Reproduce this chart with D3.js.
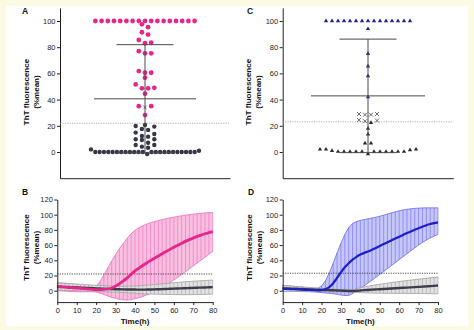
<!DOCTYPE html>
<html>
<head>
<meta charset="utf-8">
<script src="https://cdn.jsdelivr.net/npm/d3@7"></script>
<style>
  body { margin: 0; background: #fbfae2; }
  svg { display: block; font-family: "Liberation Sans", Arial, sans-serif; }
</style>
</head>
<body>
<svg id="chart" width="474" height="330"></svg>
<script>
// panel A - end point ThT values, split by call
var aPositive = [100,100,100,100,100,100,100,100,100,100,100,100,100,100,100,100,100,
  97.5,95.3,91.4,89.6,85.5,83.4,83,77,75.3,75.3,61.8,60.5,60.5,56.7,51.6,49,48.6,48.6,44.5,35,35,28.2];
var aNegative = [20.6,19.8,19.4,17.6,16.8,14.8,13.7,12.2,11.7,9.7,9.7,9.2,7.1,5.3,5.3,4.1,3.3,2,1,
  0,0,0,0,0,0,0,0,0,0,0,0,0,0,0,0,0,0,0,0,0,0,0,-1.5];
var aUnclear = [34];

// panel C
var cPositive = [100,100,100,100,100,100,100,100,100,100,100,100,100,100,100,94,75,65.5,58,42];
var cNegative = [22.4,18,13.5,6.6,6.6,2,2,0.3,0.3,0.3,0.3,0.3,0.3,-1.5,0.3,0.3,0.3,0.3,0.3,1,1.5,2];
var cUnclear = [29,28.5,28.5,29,24.5,23.5,24];

var scatterTicks = [0, 20, 40, 60, 80, 100];
var kineticTicks = [0, 20, 40, 60, 80, 100, 120];
var hourTicks = [0, 10, 20, 30, 40, 50, 60, 70, 80];
var thresholds = { A: 22, B: 22, C: 23, D: 23 };

// kinetic curves, read every 2 h
var hours = [0,2,4,6,8,10,12,14,16,18,20,22,24,26,28,30,32,34,36,38,40,
  42,44,46,48,50,52,54,56,58,60,62,64,66,68,70,72,74,76,78,80];

var bPosMean = [5.2,5.0,4.6,4.2,3.9,3.5,3.0,2.6,2.2,1.8,1.5,1.4,1.7,2.4,3.6,6.0,9.2,12.8,16.8,21.5,26.0,
  29.8,33.2,36.5,39.6,42.6,45.6,48.6,51.5,54.4,57.2,59.9,62.4,64.9,67.2,69.4,71.4,73.2,74.9,76.4,77.8];
var bPosUpper = [10.5,10.2,9.8,9.3,8.8,8.2,7.5,6.8,6.0,5.2,5.5,12,21,30,39,47.5,55.5,62.5,69,75,79.5,
  82.8,85.4,87.6,89.4,91,92.4,93.6,94.8,95.8,96.8,97.7,98.6,99.4,100.1,100.7,101.3,101.8,102.3,102.7,103];
var bPosLower = [0,-0.3,-0.6,-0.9,-1.2,-1.4,-1.5,-1.4,-1.3,-1.3,-1.8,-3.2,-5,-7,-8.8,-10.3,-11.4,-12,-12.2,-11.7,-10.6,
  -9.2,-7.5,-5.6,-3.6,-1.4,1.2,4.1,7.3,10.6,14,17.6,21.3,25,28.8,32.6,36.4,40.2,44,47.8,51.6];

var bNegMean = [5.4,5.2,5.0,4.8,4.6,4.4,4.1,3.9,3.6,3.4,3.1,2.9,2.6,2.4,2.2,2.0,1.9,1.7,1.6,1.5,1.5,
  1.4,1.4,1.5,1.6,1.7,1.9,2.1,2.3,2.5,2.7,2.9,3.1,3.3,3.5,3.7,3.9,4.1,4.3,4.5,4.7];
var bNegUpper = [10.2,9.9,9.6,9.3,9.0,8.7,8.4,8.1,7.8,7.5,7.1,6.8,6.5,6.3,6.1,5.9,5.8,5.8,5.9,6.0,6.2,
  6.5,6.8,7.2,7.6,8.0,8.5,9.0,9.5,10.0,10.5,11.0,11.4,11.8,12.2,12.5,12.8,13.1,13.4,13.7,14.0];
var bNegLower = [0.6,0.5,0.4,0.3,0.2,0.1,-0.2,-0.3,-0.6,-0.7,-0.9,-1.0,-1.3,-1.5,-1.7,-1.9,-2.0,-2.4,-2.7,-3.0,-3.2,
  -3.7,-4.0,-4.2,-4.4,-4.6,-4.7,-4.8,-4.9,-5.0,-5.1,-5.2,-5.2,-5.2,-5.2,-5.1,-5.0,-4.9,-4.8,-4.7,-4.6];

var dPosMean = [2.6,2.3,2.1,1.9,1.6,1.4,1.2,1.0,0.7,0.5,0.8,2.0,4.6,9.8,16.8,24.2,30.8,36.2,40.8,44.6,47.6,
  49.8,51.6,53.8,56.3,58.8,61.3,63.8,66.2,68.6,71.0,73.4,75.8,78.0,80.1,82.1,84.2,86.2,87.8,89.0,90.0];
var dPosUpper = [7.0,6.6,6.1,5.6,5.1,4.6,4.1,3.6,3.2,3.2,6.2,13,23.5,36,49.5,62.5,74,83,88.5,91,92.5,
  93.6,94.6,95.6,96.7,98,99.4,100.9,102.4,103.8,105.1,106.2,107.1,107.8,108.3,108.7,108.9,109,109,109,109];
var dPosLower = [-0.4,-0.5,-0.6,-0.8,-1,-1.1,-1.2,-1.4,-1.6,-2.0,-2.5,-3.0,-3.5,-4.1,-4.8,-5.7,-6.4,-6.2,-3.8,-0.4,3.0,
  6.5,10.1,13.8,17.6,21.4,25.2,29.1,33.0,36.9,40.8,44.7,48.6,52.5,56.3,60.0,63.5,66.6,69.3,71.8,74.0];

var dNegMean = [3.0,2.9,2.7,2.6,2.4,2.2,2.0,1.8,1.6,1.3,1.1,0.9,0.7,0.5,0.3,0.1,-0.1,-0.3,-0.4,-0.1,0.3,
  0.7,1.0,1.4,1.7,2.0,2.3,2.6,2.9,3.2,3.5,3.8,4.1,4.4,4.7,5.0,5.3,5.7,6.0,6.4,6.8];
var dNegUpper = [7.0,6.6,6.2,5.8,5.4,5.0,4.6,4.2,3.8,3.4,3.0,2.7,2.4,2.1,1.8,1.6,1.3,1.1,1.2,2.4,4.0,
  5.0,5.9,6.8,7.7,8.5,9.3,10.0,10.7,11.4,12.1,12.8,13.4,14.0,14.6,15.2,15.8,16.4,17.0,17.5,18.0];
var dNegLower = [-1.0,-1.0,-0.9,-0.9,-0.9,-0.8,-0.8,-0.9,-0.9,-1.0,-1.1,-1.2,-1.3,-1.4,-1.5,-1.6,-1.7,-1.8,-2.0,-2.3,-2.6,
  -2.8,-3.0,-3.1,-3.2,-3.3,-3.4,-3.4,-3.5,-3.5,-3.5,-3.5,-3.6,-3.6,-3.6,-3.7,-3.7,-3.8,-3.9,-4.0,-4.1];

var pink = "#e6268b", pinkBar = "#ee6fbb", pinkFill = "#f8bfe0";
var blue = "#1a1fc8", blueMark = "#1c1f9c", blueBar = "#6a6aec", blueFill = "#c6c7f8";
var dark = "#36364a", greyBar = "#a0a0a0", greyFill = "#e2e2e2";

var svg = d3.select("#chart");

svg.append("rect")
    .attr("x", 6).attr("y", 6)
    .attr("width", 462).attr("height", 320)
    .attr("fill", "#fff");

function styleAxis(g) {
  g.selectAll("path, line").attr("stroke", "#222").attr("stroke-width", 1);
  g.selectAll("text").attr("font-size", 7.5).attr("fill", "#222");
}

function yTitle(x, cy) {
  var t = svg.append("g")
      .attr("transform", "translate(" + x + "," + cy + ") rotate(-90)")
      .attr("font-weight", "bold").attr("font-size", 8).attr("fill", "#111")
      .attr("text-anchor", "middle");
  t.append("text").attr("y", 0).text("ThT fluorescence");
  t.append("text").attr("y", 10).text("(%mean)");
}

function panelLetter(x, y, s) {
  svg.append("text").attr("x", x).attr("y", y)
      .attr("font-weight", "bold").attr("font-size", 8.5).attr("fill", "#111")
      .text(s);
}

// simple GraphPad-like column scatter: rows of close values, centred on the column
function swarm(points, y, cx, step, maxW) {
  var sorted = points.slice().sort(function(a, b) { return a.v - b.v; });
  var rows = [], row = null;
  sorted.forEach(function(p) {
    if (row && y(row[0].v) - y(p.v) < 4.7) row.push(p);
    else { row = [p]; rows.push(row); }
  });
  rows.forEach(function(r) {
    var n = r.length,
        s = n > 1 ? Math.min(step, maxW / (n - 1)) : 0;
    var slots = d3.range(n).map(function(i) { return i - (n - 1) / 2; })
        .sort(function(a, b) { return Math.abs(a) - Math.abs(b) || b - a; });
    r.forEach(function(p, i) { p.x = cx + slots[i] * s; p.y = y(p.v); });
  });
  return sorted;
}

function scatterPanel(opt) {
  var x = d3.scaleBand().domain(["all"]).range(opt.xRange),
      y = d3.scaleLinear().domain([-20, 110]).range([178.2, 7.9]);
  var cx = x("all") + x.bandwidth() / 2;

  svg.append("g")
      .attr("transform", "translate(" + opt.xRange[0] + ",0)")
      .call(d3.axisLeft(y).tickValues(scatterTicks).tickSize(3).tickSizeOuter(0).tickPadding(1.5))
      .call(styleAxis);
  svg.append("g")
      .attr("transform", "translate(0," + y(-20) + ")")
      .call(d3.axisBottom(x).tickValues([]).tickSizeOuter(0))
      .call(styleAxis);

  svg.append("line")
      .attr("x1", opt.xRange[0]).attr("x2", opt.xRange[1])
      .attr("y1", y(opt.threshold)).attr("y2", y(opt.threshold))
      .attr("stroke", "#9a9a9a").attr("stroke-width", 0.8)
      .attr("stroke-dasharray", "1.2,1.2");

  var pts = [];
  opt.pos.forEach(function(v) { pts.push({ v: v, kind: "pos" }); });
  opt.neg.forEach(function(v) { pts.push({ v: v, kind: "neg" }); });
  opt.unclear.forEach(function(v) { pts.push({ v: v, kind: "unclear" }); });
  swarm(pts, y, cx, opt.step, opt.maxW);

  var g = svg.append("g");
  if (opt.shape === "circle") {
    g.selectAll("circle")
      .data(pts.filter(function(d) { return d.kind !== "unclear"; }))
      .enter().append("circle")
        .attr("cx", function(d) { return d.x; })
        .attr("cy", function(d) { return d.y; })
        .attr("r", function(d) { return d.kind === "pos" ? 2.4 : 2.2; })
        .attr("fill", function(d) { return d.kind === "pos" ? pink : dark; });
  } else {
    g.selectAll("path")
      .data(pts.filter(function(d) { return d.kind !== "unclear"; }))
      .enter().append("path")
        .attr("transform", function(d) { return "translate(" + d.x + "," + d.y + ")"; })
        .attr("d", d3.symbol(d3.symbolTriangle).size(8))
        .attr("fill", function(d) { return d.kind === "pos" ? blueMark : "#2a2a2a"; });
  }
  var xs = opt.crossSize;
  g.selectAll("g.cross")
    .data(pts.filter(function(d) { return d.kind === "unclear"; }))
    .enter().append("path")
      .attr("class", "cross")
      .attr("d", function(d) {
        return "M" + (d.x - xs) + "," + (d.y - xs) + "L" + (d.x + xs) + "," + (d.y + xs) +
               "M" + (d.x - xs) + "," + (d.y + xs) + "L" + (d.x + xs) + "," + (d.y - xs);
      })
      .attr("stroke", "#444").attr("stroke-width", 0.8).attr("fill", "none");

  // mean and SD of the whole column
  var all = pts.map(function(d) { return d.v; });
  var m = d3.mean(all), sd = d3.deviation(all);
  var lines = svg.append("g").attr("stroke", "#4a4a4a").attr("stroke-width", 1);
  lines.append("line")
      .attr("x1", cx - opt.meanW / 2).attr("x2", cx + opt.meanW / 2)
      .attr("y1", y(m)).attr("y2", y(m));
  lines.append("line")
      .attr("x1", cx).attr("x2", cx)
      .attr("y1", y(m - sd)).attr("y2", y(m + sd));
  [m - sd, m + sd].forEach(function(v) {
    lines.append("line")
        .attr("x1", cx - 28.5).attr("x2", cx + 28.5)
        .attr("y1", y(v)).attr("y2", y(v));
  });
}

function kineticPanel(opt) {
  var x = d3.scaleLinear().domain([0, 80]).range(opt.xRange),
      y = d3.scaleLinear().domain([-15, 120]).range([302.1, 199.5]);

  function band(upper, lower, fill, bar) {
    var g = svg.append("g");
    g.append("path")
        .datum(hours)
        .attr("d", d3.area()
          .x(function(d) { return x(d); })
          .y0(function(d, i) { return y(lower[i]); })
          .y1(function(d, i) { return y(upper[i]); }))
        .attr("fill", fill);
    g.selectAll("line")
      .data(hours)
      .enter().append("line")
        .attr("x1", function(d) { return x(d); })
        .attr("x2", function(d) { return x(d); })
        .attr("y1", function(d, i) { return y(lower[i]); })
        .attr("y2", function(d, i) { return y(upper[i]); })
        .attr("stroke", bar).attr("stroke-width", 0.6);
    [upper, lower].forEach(function(arr) {
      g.append("path")
          .datum(hours)
          .attr("d", d3.line()
            .x(function(d) { return x(d); })
            .y(function(d, i) { return y(arr[i]); }))
          .attr("fill", "none").attr("stroke", bar).attr("stroke-width", 0.8);
    });
  }
  function meanLine(mean, color, w) {
    svg.append("path")
        .datum(hours)
        .attr("d", d3.line()
          .curve(d3.curveMonotoneX)
          .x(function(d) { return x(d); })
          .y(function(d, i) { return y(mean[i]); }))
        .attr("fill", "none").attr("stroke", color).attr("stroke-width", w);
  }

  band(opt.posUpper, opt.posLower, opt.fill, opt.bar);
  band(opt.negUpper, opt.negLower, greyFill, greyBar);

  svg.append("line")
      .attr("x1", opt.xRange[0]).attr("x2", opt.xRange[1])
      .attr("y1", y(opt.threshold)).attr("y2", y(opt.threshold))
      .attr("stroke", "#333").attr("stroke-width", 0.9)
      .attr("stroke-dasharray", "1.2,1.2");

  meanLine(opt.negMean, "#3c3c4a", 2.4);
  meanLine(opt.posMean, opt.line, opt.lineW);

  svg.append("g")
      .attr("transform", "translate(" + opt.xRange[0] + ",0)")
      .call(d3.axisLeft(y).tickValues(kineticTicks).tickSize(3).tickSizeOuter(0).tickPadding(1.5))
      .call(styleAxis);
  svg.append("g")
      .attr("transform", "translate(0," + y(-15) + ")")
      .call(d3.axisBottom(x).tickValues(hourTicks).tickSize(3).tickSizeOuter(0).tickPadding(2.5))
      .call(styleAxis);

  svg.append("text")
      .attr("x", (opt.xRange[0] + opt.xRange[1]) / 2).attr("y", 324)
      .attr("text-anchor", "middle")
      .attr("font-weight", "bold").attr("font-size", 8).attr("fill", "#111")
      .text("Time(h)");
}

scatterPanel({ xRange: [60, 230], pos: aPositive, neg: aNegative, unclear: aUnclear,
  threshold: thresholds.A, shape: "circle", step: 6.2, maxW: 108, meanW: 102, crossSize: 1.6 });
scatterPanel({ xRange: [282.7, 453.3], pos: cPositive, neg: cNegative, unclear: cUnclear,
  threshold: thresholds.C, shape: "triangle", step: 6, maxW: 98, meanW: 114, crossSize: 2 });

kineticPanel({ xRange: [57.3, 212.7], threshold: thresholds.B,
  posMean: bPosMean, posUpper: bPosUpper, posLower: bPosLower,
  negMean: bNegMean, negUpper: bNegUpper, negLower: bNegLower,
  fill: pinkFill, bar: pinkBar, line: pink, lineW: 2.8 });
kineticPanel({ xRange: [282.7, 438], threshold: thresholds.D,
  posMean: dPosMean, posUpper: dPosUpper, posLower: dPosLower,
  negMean: dNegMean, negUpper: dNegUpper, negLower: dNegLower,
  fill: blueFill, bar: blueBar, line: blue, lineW: 2.2 });

yTitle(28.5, 92);
yTitle(251, 92);
yTitle(29, 247.5);
yTitle(252, 247.5);

panelLetter(22, 14, "A");
panelLetter(247, 14, "C");
panelLetter(22, 195, "B");
panelLetter(248, 195, "D");
</script>
</body>
</html>
